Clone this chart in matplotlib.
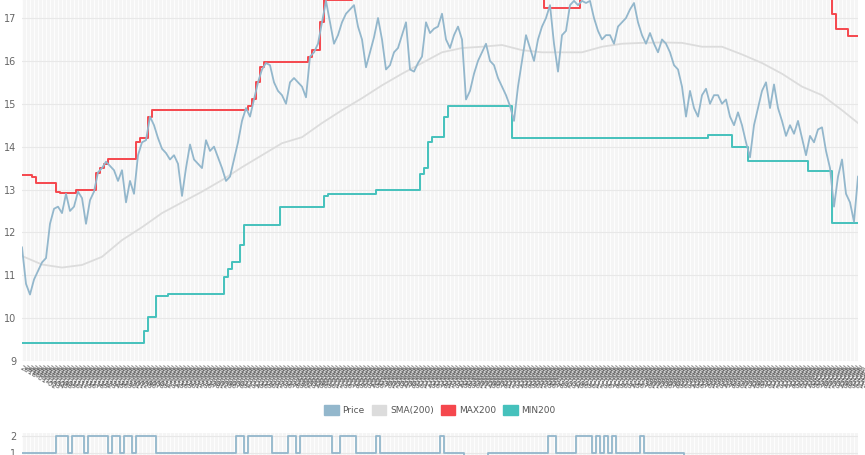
import numpy as np
import pandas as pd
import matplotlib
matplotlib.use('Agg')
import matplotlib.pyplot as plt
import matplotlib.patches as mpatches

PRICE = [11.65, 10.8, 10.55, 10.9, 11.1, 11.3, 11.4, 12.2, 12.55, 12.6,
         12.45, 12.9, 12.5, 12.6, 12.95, 12.8, 12.2, 12.75, 12.95, 13.4,
         13.5, 13.65, 13.55, 13.45, 13.2, 13.45, 12.7, 13.2, 12.9, 13.8,
         14.1, 14.15, 14.7, 14.5, 14.2, 13.95, 13.85, 13.7, 13.8, 13.6,
         12.85, 13.5, 14.05, 13.7, 13.6, 13.5, 14.15, 13.9, 14.0, 13.75,
         13.5, 13.2, 13.3, 13.7, 14.1, 14.6, 14.9, 14.7, 15.1, 15.5,
         15.8, 15.95, 15.9, 15.5, 15.3, 15.2, 15.0, 15.5, 15.6, 15.5,
         15.4, 15.15, 16.1, 16.2, 16.4, 16.9, 17.4, 16.9, 16.4, 16.6,
         16.9, 17.1, 17.2, 17.3, 16.8, 16.5, 15.85, 16.2, 16.55, 17.0,
         16.5, 15.8, 15.9, 16.2, 16.3, 16.6, 16.9, 15.8, 15.75, 15.95,
         16.1, 16.9, 16.65, 16.75, 16.8, 17.1, 16.5, 16.3, 16.6, 16.8,
         16.5, 15.1, 15.3, 15.7, 16.0, 16.2, 16.4, 16.0, 15.9, 15.6,
         15.4, 15.2, 14.95, 14.6, 15.4, 16.0, 16.6, 16.3, 16.0, 16.5,
         16.8, 17.0, 17.3, 16.4, 15.75, 16.6, 16.7, 17.3, 17.4, 17.3,
         17.4, 17.35, 17.4, 17.0, 16.7, 16.5, 16.6, 16.6, 16.4, 16.8,
         16.9, 17.0, 17.2, 17.35, 16.9, 16.6, 16.4, 16.65, 16.4, 16.2,
         16.5, 16.4, 16.2, 15.9, 15.8, 15.4, 14.7, 15.3, 14.9, 14.7,
         15.2, 15.35, 15.0, 15.2, 15.2, 15.0, 15.1, 14.7, 14.5, 14.8,
         14.5, 14.1, 13.75, 14.5, 14.9, 15.3, 15.5, 14.9, 15.45, 14.9,
         14.6, 14.25, 14.5, 14.3, 14.6, 14.2, 13.8, 14.25, 14.1, 14.4,
         14.45, 13.9, 13.5, 12.6, 13.3, 13.7, 12.9, 12.7, 12.25, 13.3]

# MAX200 / MIN200 as (value, run length)
MAX_RUNS = [(13.33, 3), (13.28, 1), (13.15, 5), (12.95, 1), (12.92, 4),
            (12.98, 5), (13.38, 1), (13.5, 1), (13.6, 1), (13.72, 7),
            (14.1, 1), (14.2, 2), (14.7, 1), (14.85, 24), (14.95, 1),
            (15.1, 1), (15.5, 1), (15.85, 1), (15.97, 11), (16.1, 1),
            (16.25, 2), (16.9, 1), (17.42, 7), (17.8, 48), (17.23, 9),
            (17.8, 63), (17.1, 1), (16.75, 3), (16.57, 3)]
MIN_RUNS = [(9.42, 31), (9.7, 1), (10.02, 2), (10.52, 3), (10.57, 14),
            (10.95, 1), (11.15, 1), (11.3, 2), (11.7, 1), (12.17, 9),
            (12.6, 11), (12.85, 1), (12.9, 12), (13.0, 11), (13.35, 1),
            (13.5, 1), (14.1, 1), (14.22, 3), (14.7, 1), (14.95, 16),
            (14.2, 49), (14.28, 6), (14.0, 4), (13.66, 15), (13.43, 6),
            (12.22, 7)]

# SMA(200), sampled every 5 points (+ last point)
SMA_IDX = list(range(0, 210, 5)) + [209]
SMA = [11.45, 11.25, 11.18, 11.24, 11.43, 11.82, 12.12, 12.45, 12.7, 12.95,
       13.22, 13.52, 13.8, 14.08, 14.22, 14.55, 14.85, 15.13, 15.43, 15.7,
       15.95, 16.2, 16.3, 16.33, 16.37, 16.25, 16.2, 16.2, 16.2, 16.33,
       16.4, 16.42, 16.43, 16.42, 16.33, 16.33, 16.15, 15.95, 15.7, 15.4,
       15.2, 14.85, 14.55]

# signal panel: baseline 1, index spans at 2 and at 0
SIG_TWO = [(9, 11), (13, 15), (17, 21), (23, 24), (26, 27), (29, 33),
           (54, 55), (57, 62), (67, 68), (70, 77), (80, 83), (89, 89),
           (105, 105), (132, 133), (139, 142), (144, 144), (146, 146),
           (148, 148), (155, 155)]
SIG_ZERO = [(111, 116), (166, 209)]

DATES = pd.date_range('2018-01-02', periods=len(PRICE), freq='B').strftime('%Y-%m-%d')

def expand(runs):
    out = []
    for v, n in runs:
        out += [v] * n
    return np.array(out, dtype=float)

COL_PRICE = '#93b7cc'
COL_SMA = '#dcdcdc'
COL_MAX = '#f5474d'
COL_MIN = '#45c1bc'
GRID_BG = '#f5f5f5'

x = np.arange(len(PRICE))
mx = expand(MAX_RUNS)
mn = expand(MIN_RUNS)
sig = np.ones(len(PRICE))
for a, b in SIG_TWO:
    sig[a:b + 1] = 2
for a, b in SIG_ZERO:
    sig[a:b + 1] = 0

fig = plt.figure(figsize=(8.65, 4.55), dpi=100)
ax = fig.add_axes([22/865, 94/455, 836/865, 361/455])
ax.set_facecolor(GRID_BG)
for i in x:
    ax.axvline(i, color='white', lw=0.6, zorder=0)
for v in range(9, 18):
    ax.axhline(v, color='#e8e8e8', lw=0.8, zorder=0)

ax.plot(SMA_IDX, SMA, color=COL_SMA, lw=1.3, zorder=2)
ax.step(x, mx, where='mid', color=COL_MAX, lw=1.4, zorder=3)
ax.step(x, mn, where='mid', color=COL_MIN, lw=1.4, zorder=3)
ax.plot(x, PRICE, color=COL_PRICE, lw=1.3, zorder=4)

ax.set_xlim(0, len(PRICE) - 1)
ax.set_ylim(9, 17.42)
ax.set_yticks(range(9, 18))
ax.tick_params(axis='y', labelsize=7, colors='#666666', length=0, pad=4)
ax.set_xticks(x)
ax.set_xticklabels(DATES, rotation=-30, ha='left', rotation_mode='anchor',
                   fontsize=5, color='#555555')
ax.tick_params(axis='x', length=0, pad=3)
for s in ax.spines.values():
    s.set_visible(False)

handles = [mpatches.Patch(color=c) for c in (COL_PRICE, COL_SMA, COL_MAX, COL_MIN)]
fig.legend(handles, ['Price', 'SMA(200)', 'MAX200', 'MIN200'], loc='center',
           bbox_to_anchor=(440/865, 1 - 410/455), ncol=4, frameon=False,
           fontsize=6.5, handlelength=1.6, handleheight=1.4, columnspacing=0.8,
           handletextpad=0.4, labelcolor='#555555')

ax2 = fig.add_axes([22/865, -15/455, 836/865, 37.4/455])
ax2.set_facecolor(GRID_BG)
for i in x:
    ax2.axvline(i, color='white', lw=0.6, zorder=0)
for v in (0, 1, 2):
    ax2.axhline(v, color='#e8e8e8', lw=0.8, zorder=0)
ax2.plot(x, sig, color=COL_PRICE, lw=1.3, drawstyle='steps-mid')
ax2.set_xlim(0, len(PRICE) - 1)
ax2.set_ylim(0, 2.2)
ax2.set_yticks([0, 1, 2])
ax2.set_xticks([])
ax2.tick_params(axis='y', labelsize=7, colors='#666666', length=0, pad=4)
for s in ax2.spines.values():
    s.set_visible(False)

fig.savefig('out.png', dpi=100)
